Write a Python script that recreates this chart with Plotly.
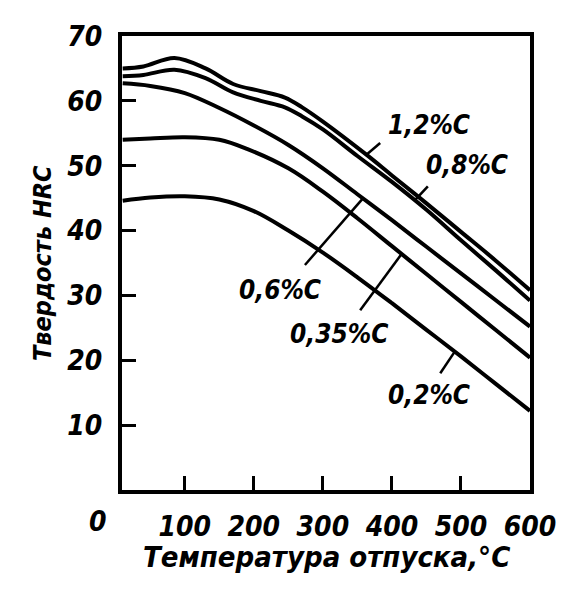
import numpy as np
import plotly.graph_objects as go

# ---- data ----
c12_t = [10, 40, 85, 130, 170, 210, 245, 270, 300, 363, 400, 450, 500, 550, 600]
c12_h = [65.0, 65.3, 66.6, 65.0, 62.6, 61.5, 60.5, 59.0, 56.8, 51.7, 48.5, 44.2, 39.8, 35.4, 30.8]

c08_t = [10, 40, 85, 130, 170, 210, 245, 270, 300, 350, 400, 450, 500, 550, 600]
c08_h = [63.8, 64.0, 64.8, 63.5, 61.3, 60.0, 59.0, 57.6, 55.6, 51.5, 47.5, 43.2, 38.5, 33.9, 29.2]

c06_t = [10, 50, 100, 150, 200, 250, 300, 350, 400, 450, 500, 550, 600]
c06_h = [62.7, 62.3, 61.2, 58.9, 56.2, 53.2, 49.6, 45.6, 41.6, 37.5, 33.4, 29.3, 25.2]

c035_t = [10, 50, 100, 150, 190, 250, 300, 350, 400, 450, 500, 550, 600]
c035_h = [54.0, 54.2, 54.4, 54.0, 52.6, 49.6, 46.0, 41.9, 37.6, 33.3, 29.0, 24.7, 20.4]

c02_t = [10, 50, 100, 150, 200, 250, 300, 350, 400, 450, 500, 550, 600]
c02_h = [44.6, 45.1, 45.3, 44.8, 43.0, 40.0, 36.6, 32.8, 28.8, 24.7, 20.6, 16.4, 12.2]

series_names = ["1,2%C", "0,8%C", "0,6%C", "0,35%C", "0,2%C"]
series_t = [c12_t, c08_t, c06_t, c035_t, c02_t]
series_h = [c12_h, c08_h, c06_h, c035_h, c02_h]

# label positions (temperature, HRC) and leader lines
label_t = [454, 509, 238, 323, 454]
label_h = [56.3, 50.1, 30.8, 24.1, 14.7]
leader_on_t = [363, 433, 358, 414, 491]
leader_end_t = [383, 452, 274, 354, 470]
leader_end_h = [53.5, 46.8, 34.7, 27.7, 18.0]

x_ticks = [100, 200, 300, 400, 500, 600]
y_ticks = [10, 20, 30, 40, 50, 60, 70]

FONT = "DejaVu Sans Condensed, DejaVu Sans, sans-serif"

fig = go.Figure()
for name, t, h in zip(series_names, series_t, series_h):
    fig.add_trace(go.Scatter(x=t, y=h, mode="lines", name=name,
                             line=dict(color="black", width=4, shape="spline", smoothing=1.0),
                             showlegend=False, hoverinfo="skip"))

# leaders
for i in range(len(series_names)):
    y_on = float(np.interp(leader_on_t[i], series_t[i], series_h[i]))
    fig.add_trace(go.Scatter(x=[leader_on_t[i], leader_end_t[i]], y=[y_on, leader_end_h[i]],
                             mode="lines", line=dict(color="black", width=2.5),
                             showlegend=False, hoverinfo="skip"))

annotations = []
for txt, tx, hy in zip(series_names, label_t, label_h):
    annotations.append(dict(x=tx, y=hy, xref="x", yref="y", text=txt, showarrow=False,
                            xanchor="center", yanchor="middle",
                            font=dict(family=FONT, size=26, color="black", style="italic", weight="bold")))

annotations.append(dict(x=-0.059, y=-0.069, xref="paper", yref="paper", text="0", showarrow=False,
                        xanchor="center", yanchor="middle",
                        font=dict(family=FONT, size=28, color="black", style="italic", weight="bold")))
annotations.append(dict(x=-0.196, y=0.5, xref="paper", yref="paper", text="Твердость HRC",
                        showarrow=False, textangle=-90, xanchor="center", yanchor="middle",
                        font=dict(family=FONT, size=25, color="black", style="italic", weight="bold")))
annotations.append(dict(x=0.5, y=-0.147, xref="paper", yref="paper", text="Температура отпуска,°С",
                        showarrow=False, xanchor="center", yanchor="middle",
                        font=dict(family=FONT, size=29, color="black", style="italic", weight="bold")))

fig.update_layout(
    width=583, height=611,
    margin=dict(l=114, r=61, t=21, b=129),
    paper_bgcolor="white", plot_bgcolor="white",
    annotations=annotations,
    xaxis=dict(range=[9, 600], tickvals=x_ticks, ticktext=[str(v) for v in x_ticks],
               showgrid=False, zeroline=False, showline=True, linecolor="black", linewidth=4,
               mirror=True, ticks="inside", ticklen=14, tickwidth=3, tickcolor="black",
               ticklabelstandoff=8,
               tickfont=dict(family=FONT, size=28, color="black", style="italic", weight="bold")),
    yaxis=dict(range=[0, 70], tickvals=y_ticks, ticktext=[str(v) for v in y_ticks],
               showgrid=False, zeroline=False, showline=True, linecolor="black", linewidth=4,
               mirror=True, ticks="inside", ticklen=14, tickwidth=3, tickcolor="black",
               ticklabelstandoff=10,
               tickfont=dict(family=FONT, size=28, color="black", style="italic", weight="bold")),
)

fig.write_html("out.html")
